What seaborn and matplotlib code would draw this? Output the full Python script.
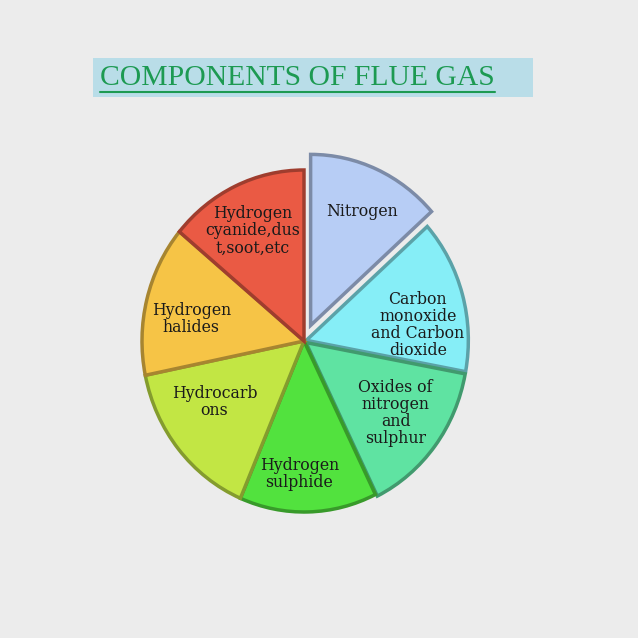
import numpy as np
import matplotlib
matplotlib.use("Agg")
import matplotlib.pyplot as plt
import matplotlib.colors as mcolors
from matplotlib.patches import Rectangle
from matplotlib.lines import Line2D
import seaborn as sns

# ---- data ----
categories = ["Nitrogen", "Carbon\nmonoxide\nand Carbon\ndioxide", "Oxides of\nnitrogen\nand\nsulphur",
              "Hydrogen\nsulphide", "Hydrocarb\nons", "Hydrogen\nhalides",
              "Hydrogen\ncyanide,dus\nt,soot,etc"]
values = [48, 52, 53, 49, 55, 51, 50]
colors = ["#b7cdf5", "#86eef7", "#5fe3a2", "#52e23e", "#c2e644", "#f6c446", "#ea5a44"]
title = "COMPONENTS OF FLUE GAS"

# ---- style ----
explode = [0.1, 0.015, 0.015, 0.0, 0.0, 0.0, 0.0]
label_r = [0.85, 0.69, 0.70, 0.80, 0.65, 0.69, 0.73]      # fraction of radius
label_dang = [0, -7.5, -1, -3.5, -5, 3, 0]                 # degrees from wedge middle

sns.set_theme(style="white")
plt.rcParams['font.family'] = ['Liberation Serif', 'DejaVu Serif']

W = H = 638
fig = plt.figure(figsize=(6.38, 6.38), dpi=100, facecolor="#ececec")

# title box
fig.patches.append(Rectangle((93 / W, 1 - 97 / H), 440 / W, 39 / H, transform=fig.transFigure,
                             facecolor="#b9dde8", edgecolor="none", zorder=0))
t = fig.text(100 / W, 1 - 78 / H, title, fontsize=21.3, color="#1d9a52", va="center", ha="left")
fig.canvas.draw()
bb = t.get_window_extent(renderer=fig.canvas.get_renderer())
inv = fig.transFigure.inverted()
(x0, y0), (x1, y1) = inv.transform([[bb.x0, bb.y0], [bb.x1, bb.y1]])
fig.lines.append(Line2D([x0, x1], [1 - 92 / H] * 2, transform=fig.transFigure, color="#1d9a52", lw=1.5))

# pie (slightly taller than wide, like the reference's perspective)
cx, cy, rx, ry, half = 304, 341, 162, 171, 200
ax = fig.add_axes([(cx - half) / W, 1 - (cy + half) / H, 2 * half / W, 2 * half / H])
ax.set_facecolor("none")
pal = sns.color_palette(colors)
wedges, _ = ax.pie(values, colors=pal, explode=explode, startangle=90, counterclock=False,
                   radius=1.0, wedgeprops=dict(linewidth=2.5))
for w, c in zip(wedges, colors):
    r, g, b = mcolors.to_rgb(c)
    w.set_edgecolor((r * 0.68, g * 0.68, b * 0.68))

Rm = (rx + ry) / 2
for w, lab, lr, da in zip(wedges, categories, label_r, label_dang):
    ang = np.deg2rad((w.theta1 + w.theta2) / 2 + da)
    ax.annotate(lab, xy=(0, 0), xytext=(lr * Rm * np.cos(ang), lr * Rm * np.sin(ang)),
                textcoords="offset pixels", ha="center", va="center",
                fontsize=11.3, family=["DejaVu Serif"], color="#1a1a1a", linespacing=1.0)

ax.set_xlim(-half / rx, half / rx)
ax.set_ylim(-half / ry, half / ry)
ax.set_aspect("auto")
ax.axis("off")

fig.savefig("out.png", dpi=100, facecolor=fig.get_facecolor())
